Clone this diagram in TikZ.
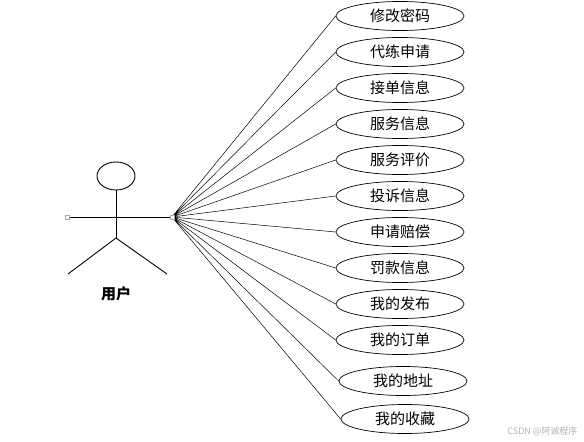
\documentclass[tikz,border=0pt]{standalone}
\usepackage{fontspec}
\newfontfamily\cjk{Noto Sans CJK SC}
\usetikzlibrary{shapes.geometric}
\tikzset{
  usecase/.style={draw, ellipse, line width=0.7pt, minimum width=128pt, minimum height=29pt,
    inner sep=0pt, font=\cjk\fontsize{15}{17}\selectfont},
  handle/.style={draw=gray!70, fill=white, line width=0.5pt, minimum size=4pt, inner sep=0pt}
}
\begin{document}
\begin{tikzpicture}[x=1pt,y=-1pt]
    \useasboundingbox (0,0) rectangle (584,442);
    % actor
    \draw[line width=0.9pt] (116,176) ellipse [x radius=19, y radius=14];
    \draw[line width=0.9pt] (116,190)--(116,238);
    \draw[line width=0.9pt] (116,238)--(68,274);
    \draw[line width=0.9pt] (116,238)--(167,274);
    \draw[line width=0.9pt] (67,217)--(172,217);
    \node[handle] (lh) at (67,217) {};
    \coordinate (hub) at (172,217);
    \node[font=\cjk\bfseries\fontsize{15}{17}\selectfont] (actor) at (116,294) {用户};
    % use cases
    \node[usecase] (u1) at (400,16) {修改密码};
    \node[usecase] (u2) at (400,52) {代练申请};
    \node[usecase] (u3) at (400,88) {接单信息};
    \node[usecase] (u4) at (400,124) {服务信息};
    \node[usecase] (u5) at (400,160) {服务评价};
    \node[usecase] (u6) at (400,196) {投诉信息};
    \node[usecase] (u7) at (400,232) {申请赔偿};
    \node[usecase] (u8) at (400,268) {罚款信息};
    \node[usecase] (u9) at (400,304) {我的发布};
    \node[usecase] (u10) at (400,340) {我的订单};
    \node[usecase] (u11) at (403,381) {我的地址};
    \node[usecase] (u12) at (405,419) {我的收藏};
    % links
    \draw[line width=0.5pt] (hub)--(u1.west) (hub)--(u2.west) (hub)--(u3.west)
      (hub)--(u4.west) (hub)--(u5.west) (hub)--(u6.west) (hub)--(u7.west)
      (hub)--(u8.west) (hub)--(u9.west) (hub)--(u10.west) (hub)--(u11.west)
      (hub)--(u12.west);
    \node[handle] (rh) at (hub) {};
    \node[text=gray!60, font=\cjk\fontsize{9}{11}\selectfont, anchor=east] (mark) at (581,431) {CSDN @阿诚程序};
  \end{tikzpicture}
\end{document}
